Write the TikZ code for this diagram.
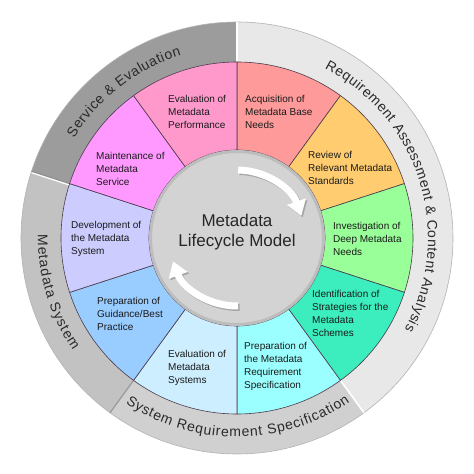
\documentclass[tikz,border=0pt]{standalone}
\usepackage{fontspec}
\setmainfont{Liberation Sans}
\usetikzlibrary{decorations.text,arrows.meta}
\definecolor{cA}{HTML}{FF9A9A}
\definecolor{cB}{HTML}{FFCC70}
\definecolor{cC}{HTML}{99FF99}
\definecolor{cD}{HTML}{3CEEBE}
\definecolor{cE}{HTML}{9CFFFF}
\definecolor{cF}{HTML}{CCEEFF}
\definecolor{cG}{HTML}{99CCFF}
\definecolor{cH}{HTML}{CCCCFF}
\definecolor{cI}{HTML}{FF99FF}
\definecolor{cJ}{HTML}{FF99CC}
\definecolor{rSE}{HTML}{9C9C9C}
\definecolor{rMS}{HTML}{C2C2C2}
\definecolor{rSR}{HTML}{D0D0D0}
\definecolor{rRA}{HTML}{E8E8E8}
\definecolor{segline}{HTML}{4A3A4A}
\definecolor{discfill}{HTML}{D3D3D3}
\definecolor{discrim}{HTML}{BDBDBD}
\definecolor{ringtext}{HTML}{2A2A2A}
\definecolor{segtext}{HTML}{1A1A1A}
\newcommand\myRo{216}
\newcommand\myRc{176}
\newcommand\myRi{88}
\newcommand\ringsector[3]{\fill[#3] (#1:\myRc) arc[start angle=#1,end angle=#2,radius=\myRc] -- (#2:\myRo) arc[start angle=#2,end angle=#1,radius=\myRo] -- cycle;}
\newcommand\ringfont{\fontsize{14}{14}\selectfont}
\tikzset{
  segtxt/.style={anchor=west,inner sep=0pt,align=left,text=segtext,font=\fontsize{10}{13}\selectfont},
  ringtxt/.style={decorate,decoration={text along path,text align=fit to path,text color=ringtext}},
  cyclearrow/.style={line width=7pt,white,-{Triangle[width=19pt,length=15pt]}},
  arrowshadow/.style={line width=7pt,black!35,-{Triangle[width=19pt,length=15pt]}}
}
\begin{document}
\begin{tikzpicture}[x=1pt,y=1pt]
\useasboundingbox (-237,-236) rectangle (237,238);
% outer ring
\ringsector{90}{162}{rSE}
\ringsector{162}{234}{rMS}
\ringsector{234}{306}{rSR}
\ringsector{-54}{90}{rRA}
\draw[black!30,line width=0.6pt] (0,0) circle[radius=\myRo];
\draw[white,line width=1.6pt] (90:\myRc) -- (90:\myRo);
\draw[black!45,line width=1pt] (162:\myRc) -- (162:\myRo);
\draw[white,line width=1.2pt] ([shift={(0,-1.5)}]162:\myRc) -- ([shift={(0,-1.5)}]162:\myRo);
\draw[black!40,line width=1.2pt] (234:\myRc) -- (234:\myRo);
\draw[white,line width=1.6pt] (306:\myRc) -- (306:\myRo);
% coloured segments
\foreach \a/\b/\c in {54/90/cA,18/54/cB,-18/18/cC,-54/-18/cD,-90/-54/cE,-126/-90/cF,-162/-126/cG,162/198/cH,126/162/cI,90/126/cJ}{
  \filldraw[fill=\c,draw=segline,line width=0.6pt] (\a:\myRi) -- (\a:\myRc) arc[start angle=\a,end angle=\b,radius=\myRc] -- (\b:\myRi) arc[start angle=\b,end angle=\a,radius=\myRi] -- cycle;
}
% centre disc
\filldraw[fill=discfill,draw=discrim,line width=3pt] (0,0) circle[radius=86.5];
% cycle arrows
\draw[arrowshadow] ([shift={(1.5,-1.5)}]89:68) arc[start angle=89,end angle=19,radius=68];
\draw[cyclearrow] (89:68) arc[start angle=89,end angle=19,radius=68];
\draw[arrowshadow] ([shift={(1.5,-1.5)}]-89:68) arc[start angle=-89,end angle=-160,radius=68];
\draw[cyclearrow] (-89:68) arc[start angle=-89,end angle=-160,radius=68];
\node[font=\fontsize{17}{20}\selectfont,align=center,text=black!85] (title) at (0,6) {Metadata\\Lifecycle Model};
% segment texts
\node[segtxt] (s1) at (8,126) {Acquisition of\\Metadata Base\\Needs};
\node[segtxt] (s2) at (71,70) {Review of\\Relevant Metadata\\Standards};
\node[segtxt] (s3) at (96,-1) {Investigation of\\Deep Metadata\\Needs};
\node[segtxt] (s4) at (75,-75.5) {Identification of\\Strategies for the\\Metadata\\Schemes};
\node[segtxt] (s5) at (7,-128.5) {Preparation of\\the Metadata\\Requirement\\Specification};
\node[segtxt] (s6) at (-69,-130) {Evaluation of\\Metadata\\Systems};
\node[segtxt] (s7) at (-140,-76) {Preparation of\\Guidance/Best\\Practice};
\node[segtxt] (s8) at (-166,-1) {Development of\\the Metadata\\System};
\node[segtxt] (s9) at (-141,69) {Maintenance of\\Metadata\\Service};
\node[segtxt] (s10) at (-69,126) {Evaluation of\\Metadata\\Performance};
% ring texts
\path[ringtxt,decoration={text={|\ringfont|Service {\&} Evaluation}}] (148.5:191) arc[start angle=148.5,end angle=107,radius=191];
\path[ringtxt,decoration={text={|\ringfont|Requirement Assessment {\&} Content Analysis}}] (62.7:191) arc[start angle=62.7,end angle=-28.6,radius=191];
\path[ringtxt,decoration={text={|\ringfont|Metadata System}}] (179:199) arc[start angle=179,end angle=214.5,radius=199];
\path[ringtxt,decoration={text={|\ringfont|System Requirement Specification}}] (236:199) arc[start angle=236,end angle=304.5,radius=199];
\end{tikzpicture}
\end{document}
